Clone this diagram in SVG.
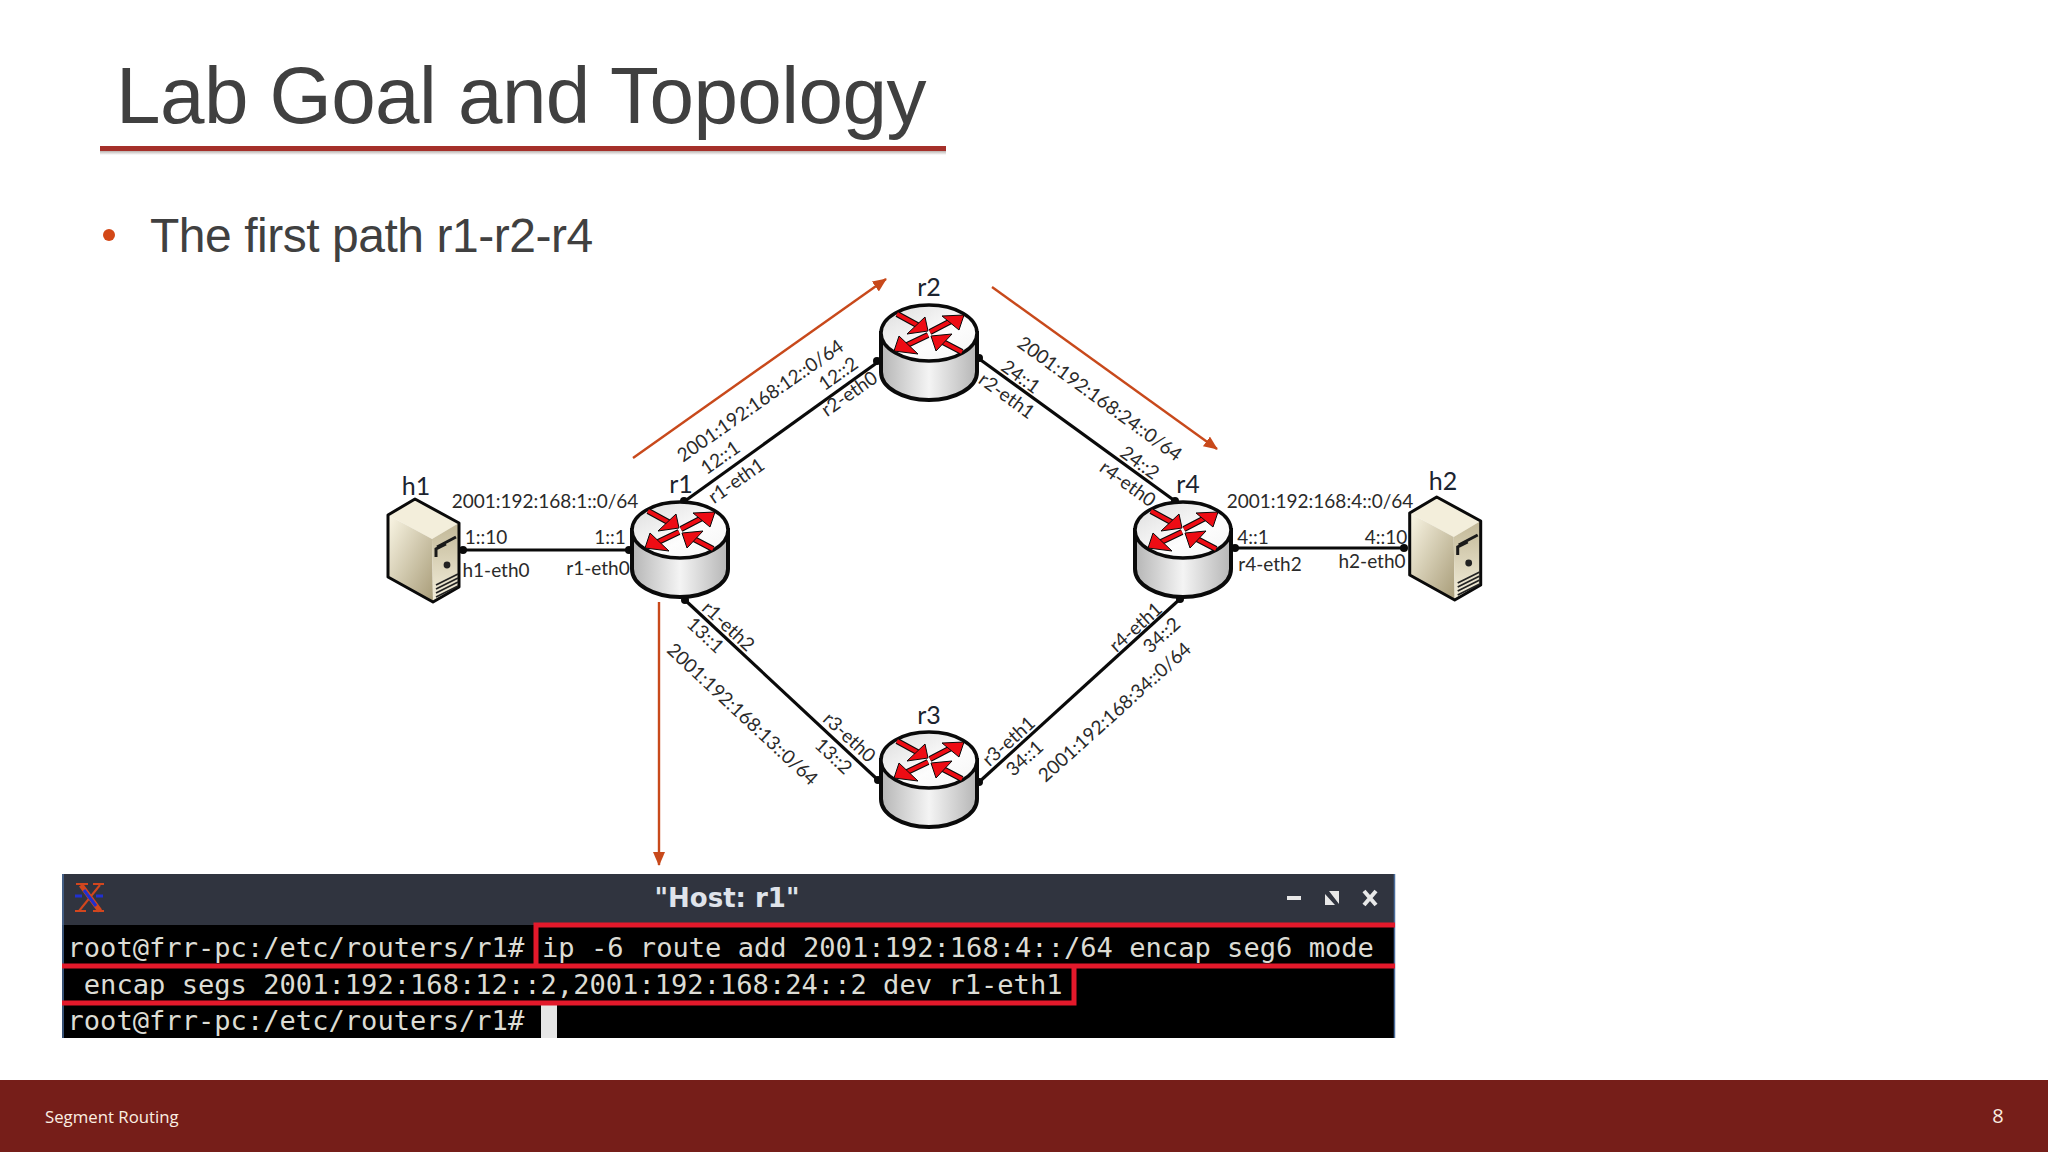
<svg xmlns="http://www.w3.org/2000/svg" xmlns:xlink="http://www.w3.org/1999/xlink" width="2048" height="1152" viewBox="0 0 2048 1152">
<style>
.lb{font-family:Lato,"Liberation Sans",sans-serif;font-size:19px;fill:#2a2a2a}
.nm{font-family:Lato,"Liberation Sans",sans-serif;font-size:25px;fill:#1c2430}
.m{text-anchor:middle}
.tm{font-family:"DejaVu Sans Mono",monospace;font-size:27.1px;fill:#dcdcd4;white-space:pre}
.ln{stroke:#0a0a0a;stroke-width:3.2;fill:none}
.dot{fill:#0a0a0a}
.or{stroke:#c8491b;stroke-width:2.4;fill:none}
.hl{fill:none;stroke:#e3192b;stroke-width:5}
.ah{fill:#ee0c14;stroke:#0a0a0a;stroke-width:1;stroke-linejoin:round}
.sb{stroke:#0a0a0a;stroke-width:6;fill:none}
.sf{stroke:#ee0c14;stroke-width:3.8;fill:none}
</style>
<defs>
<linearGradient id="cyl" x1="0" x2="1" y1="0" y2="0"><stop offset="0" stop-color="#b5b5b5"/><stop offset=".5" stop-color="#f4f4f4"/><stop offset="1" stop-color="#b5b5b5"/></linearGradient>
<linearGradient id="top" x1="0" x2="1" y1="0" y2="1"><stop offset="0" stop-color="#dcdcdc"/><stop offset=".6" stop-color="#fdfdfd"/><stop offset="1" stop-color="#f4f4f4"/></linearGradient>
<linearGradient id="sl" x1="0" x2="1" y1="0" y2="1"><stop offset="0" stop-color="#fbf7e6"/><stop offset="1" stop-color="#a89c78"/></linearGradient>
<linearGradient id="sr" x1="0" x2="0" y1="0" y2="1"><stop offset="0" stop-color="#c2b897"/><stop offset="1" stop-color="#f4efdc"/></linearGradient>
<linearGradient id="shd" x1="0" x2="0" y1="0" y2="1"><stop offset="0" stop-color="#b9b3b0"/><stop offset="1" stop-color="#fff"/></linearGradient>
<marker id="ah" markerUnits="userSpaceOnUse" markerWidth="16" markerHeight="14" refX="13" refY="6" orient="auto"><path d="M0,0L14,6L0,12Z" fill="#c8491b"/></marker>
<g id="router">
<path d="M-48,0V39A48,28 0 0 0 48,39V0Z" fill="url(#cyl)" stroke="#0a0a0a" stroke-width="4"/>
<ellipse cx="0" cy="0" rx="48" ry="28" fill="url(#top)" stroke="#0a0a0a" stroke-width="3.5"/>
<path class="sb" d="M1,-1L24,-13M-1,2L-24,13M-32,-19L-10,-7M33,19L12,8"/><path class="sf" d="M1,-1L24,-13M-1,2L-24,13M-32,-19L-10,-7M33,19L12,8"/>
<path class="ah" d="M35,-18L13,-17L30,-3Z"/>
<path class="ah" d="M-35,18L-30,3L-11,21Z"/>
<path class="ah" d="M-1,-2L-22,1L-4,-16Z"/>
<path class="ah" d="M2,3L23,1L7,18Z"/>
</g>
<g id="server">
<path d="M388,515L415,499L459,523L432,539Z" fill="#f3eedb"/>
<path d="M388,515L432,539L433,602L388,577Z" fill="url(#sl)"/>
<path d="M432,539L459,523V587L433,602Z" fill="url(#sr)"/>
<path d="M388,515L415,499L459,523V587L433,602L388,577Z" fill="none" stroke="#0a0a0a" stroke-width="3" stroke-linejoin="round"/>
<path d="M437,547L456,537M436,557V549L446,544" stroke="#1a1a1a" stroke-width="3" fill="none"/>
<circle cx="447" cy="565" r="3.4" fill="#222"/>
<path d="M436,585L458,574M436,589L458,578M436,593L458,582M436,597L458,586" stroke="#222" stroke-width="1.8"/>
</g>
</defs>
<rect width="2048" height="1152" fill="#fff"/>
<text x="116" y="123" font-family="Liberation Sans,sans-serif" font-size="80" letter-spacing="-.55" fill="#404040">Lab Goal and Topology</text>
<rect x="100" y="146" width="846" height="5" fill="#a5302a"/>
<rect x="100" y="151" width="846" height="4" fill="url(#shd)"/>
<circle cx="109" cy="235" r="6" fill="#d34817"/>
<text x="150" y="252" font-family="Liberation Sans,sans-serif" font-size="48" letter-spacing="-.47" fill="#404040">The first path r1-r2-r4</text>

<g id="connectors">
<path class="ln" d="M460,550H632"/><path class="ln" d="M1232,548H1407"/>
<path class="ln" d="M685,501L878,362"/><path class="ln" d="M978,358L1175,501"/>
<path class="ln" d="M685,600L878,780"/><path class="ln" d="M978,783L1180,599"/>
<circle class="dot" cx="463" cy="550" r="4"/><circle class="dot" cx="629" cy="550" r="4"/>
<circle class="dot" cx="1235" cy="548" r="4"/><circle class="dot" cx="1404" cy="548" r="4"/>
<circle class="dot" cx="684" cy="501" r="4"/><circle class="dot" cx="877" cy="361" r="4"/>
<circle class="dot" cx="979" cy="358" r="4"/><circle class="dot" cx="1175" cy="501" r="4"/>
<circle class="dot" cx="685" cy="600" r="4"/><circle class="dot" cx="878" cy="780" r="4"/>
<circle class="dot" cx="979" cy="782" r="4"/><circle class="dot" cx="1180" cy="599" r="4"/>
<path class="or" d="M633,458L886,279" marker-end="url(#ah)"/>
<path class="or" d="M992,287L1217,449" marker-end="url(#ah)"/>
<path class="or" d="M659,602V865" marker-end="url(#ah)"/>
</g>

<g id="h1"><use xlink:href="#server" href="#server"/><text class="nm m" x="416" y="495">h1</text></g>
<g id="h2"><use xlink:href="#server" href="#server" x="1021.7" y="-2"/><text class="nm m" x="1443" y="490">h2</text></g>
<g id="r1"><use xlink:href="#router" href="#router" x="680" y="530"/><text class="nm m" x="681" y="493">r1</text></g>
<g id="r2"><use xlink:href="#router" href="#router" x="929" y="333"/><text class="nm m" x="929" y="296">r2</text></g>
<g id="r3"><use xlink:href="#router" href="#router" x="929" y="760"/><text class="nm m" x="929" y="724">r3</text></g>
<g id="r4"><use xlink:href="#router" href="#router" x="1183" y="530"/><text class="nm m" x="1188" y="493">r4</text></g>

<g id="labels">
<text class="lb m" x="545" y="508">2001:192:168:1::0/64</text>
<text class="lb m" x="486" y="544">1::10</text><text class="lb m" x="610" y="544">1::1</text>
<text class="lb m" x="496" y="577">h1-eth0</text><text class="lb m" x="598" y="575">r1-eth0</text>
<text class="lb m" x="1320" y="508">2001:192:168:4::0/64</text>
<text class="lb m" x="1253" y="544">4::1</text><text class="lb m" x="1386" y="544">4::10</text>
<text class="lb m" x="1270" y="571">r4-eth2</text><text class="lb m" x="1372" y="568">h2-eth0</text>
<text class="lb m" transform="translate(764,406) rotate(-35)">2001:192:168:12::0/64</text>
<text class="lb m" transform="translate(842,379) rotate(-35)">12::2</text>
<text class="lb m" transform="translate(853,399) rotate(-35)">r2-eth0</text>
<text class="lb m" transform="translate(724,463) rotate(-35)">12::1</text>
<text class="lb m" transform="translate(740,486) rotate(-35)">r1-eth1</text>
<text class="lb m" transform="translate(1096,404) rotate(36)">2001:192:168:24::0/64</text>
<text class="lb m" transform="translate(1017,382) rotate(36)">24::1</text>
<text class="lb m" transform="translate(1003,401) rotate(36)">r2-eth1</text>
<text class="lb m" transform="translate(1136,468) rotate(36)">24::2</text>
<text class="lb m" transform="translate(1124,489) rotate(36)">r4-eth0</text>
<text class="lb m" transform="translate(724,631) rotate(43)">r1-eth2</text>
<text class="lb m" transform="translate(701,640) rotate(43)">13::1</text>
<text class="lb m" transform="translate(738,719) rotate(43)">2001:192:168:13::0/64</text>
<text class="lb m" transform="translate(845,742) rotate(43)">r3-eth0</text>
<text class="lb m" transform="translate(829,761) rotate(43)">13::2</text>
<text class="lb m" transform="translate(1013,746) rotate(-42)">r3-eth1</text>
<text class="lb m" transform="translate(1029,763) rotate(-42)">34::1</text>
<text class="lb m" transform="translate(1119,717) rotate(-42)">2001:192:168:34::0/64</text>
<text class="lb m" transform="translate(1140,632) rotate(-42)">r4-eth1</text>
<text class="lb m" transform="translate(1166,640) rotate(-42)">34::2</text>
</g>

<g id="terminal">
<rect x="62" y="874" width="1333" height="164" fill="#000"/>
<rect x="62" y="874" width="1333" height="51" fill="#30343f"/>
<path d="M63,874V1038M1394.500,874V1038" stroke="#4a6c9c" stroke-width="1.5"/>
<path d="M81,885L100,911" stroke="#d2461e" stroke-width="5"/>
<path d="M100,885L79,911" stroke="#d2461e" stroke-width="2"/>
<path d="M76,884H88M93,884H104M75,911H86M93,911H104" stroke="#d2461e" stroke-width="2"/>
<path d="M84,890L96,906M75,896H82M96,896H103" stroke="#2030d0" stroke-width="3"/>
<text x="727" y="907" text-anchor="middle" font-family="DejaVu Sans,sans-serif" font-weight="700" font-size="26" fill="#dfe3ea">"Host: r1"</text>
<path d="M1287,898H1301" stroke="#e8e8e8" stroke-width="4"/>
<path d="M1329,891H1339V904ZM1325,894L1335,905H1325Z" fill="#e8e8e8"/>
<path d="M1364,891L1376,905M1376,891L1364,905" stroke="#e8e8e8" stroke-width="4"/>
<text class="tm" x="67.500" y="957">root@frr-pc:/etc/routers/r1#</text>
<text class="tm" x="542" y="957">ip -6 route add 2001:192:168:4::/64 encap seg6 mode</text>
<text class="tm" x="67.500" y="994"> encap segs 2001:192:168:12::2,2001:192:168:24::2 dev r1-eth1</text>
<text class="tm" x="67.500" y="1030">root@frr-pc:/etc/routers/r1#</text>
<rect x="541" y="1005" width="16" height="33" fill="#e6e6e6"/>
<path class="hl" d="M62,966H536V925H1395M1395,966H536M62,1003H1074V966"/>
</g>

<g id="footer">
<rect y="1080" width="2048" height="72" fill="#761e19"/>
<text x="45" y="1123" font-family="Open Sans,sans-serif" font-size="16.800" fill="#fbeee2">Segment Routing</text>
<text x="1998" y="1123" text-anchor="middle" font-family="Open Sans,sans-serif" font-size="20" fill="#fbeee2">8</text>
</g>
</svg>
